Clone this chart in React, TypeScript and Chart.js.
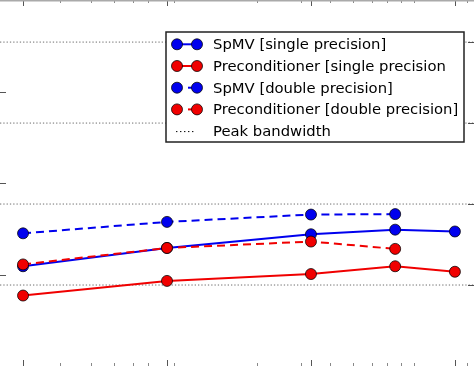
import React, { useEffect, useRef } from "react";
import { Chart, registerables } from "chart.js";
Chart.register(...registerables);

// ---- data ----
const xValues = [1, 2, 4, 6, 8];
const spmvSingle = [10.9, 12.9, 14.4, 14.9, 14.7];
const precondSingle = [7.7, 9.3, 10.05, 10.9, 10.3];
const spmvDouble = [14.5, 15.75, 16.55, 16.6];
const precondDouble = [11.1, 12.9, 13.6, 12.8];
const peakBandwidth = [8.85, 17.7, 26.55, 35.4];
const yTicks = [10, 20, 30];
const xMajorTicks = [1, 2, 4, 8];
const xMinorTicks = [1.195, 1.387, 1.55, 1.698, 1.825, 2.07, 3.08, 3.81, 4.38, 4.9, 5.36, 5.77, 6.17, 6.57, 8.47];
const seriesLabels = [
  "SpMV [single precision]",
  "Preconditioner [single precision",
  "SpMV [double precision]",
  "Preconditioner [double precision]",
  "Peak bandwidth",
];

const X_MIN = 0.895;
const X_MAX = 8.77;
const Y_MIN = 0;
const Y_MAX = 40;

const BLUE = "#0000ee";
const RED = "#f00000";
const DASH = [8, 5];
const FONT = "14.8px 'DejaVu Sans', sans-serif";

const pts = (ys: number[]) => ys.map((y, i) => ({ x: xValues[i], y }));

const legendStyles = [
  { color: BLUE, dashed: false, marker: true },
  { color: RED, dashed: false, marker: true },
  { color: BLUE, dashed: true, marker: true },
  { color: RED, dashed: true, marker: true },
  { color: "#000", dashed: false, marker: false },
];

const framePlugin = {
  id: "frame",
  beforeDatasetsDraw(chart: any) {
    const { ctx, chartArea: a, scales } = chart;
    const xs = scales.x;
    const ys = scales.y;
    ctx.save();
    ctx.lineWidth = 1;
    const tick = (x1: number, y1: number, x2: number, y2: number) => {
      ctx.beginPath();
      ctx.moveTo(x1, y1);
      ctx.lineTo(x2, y2);
      ctx.stroke();
    };
    ctx.strokeStyle = "#555";
    xMajorTicks.forEach((v) => {
      const px = Math.round(xs.getPixelForValue(v)) + 0.5;
      tick(px, a.top, px, a.top + 6);
      tick(px, a.bottom, px, a.bottom - 6);
    });
    yTicks.forEach((v) => {
      const py = Math.round(ys.getPixelForValue(v)) + 0.5;
      tick(a.left, py, a.left + 6, py);
    });
    peakBandwidth.forEach((v) => {
      const py = Math.round(ys.getPixelForValue(v)) + 0.5;
      tick(a.right, py, a.right - 6, py);
    });
    ctx.strokeStyle = "#888";
    xMinorTicks.forEach((v) => {
      const px = Math.round(xs.getPixelForValue(v)) + 0.5;
      tick(px, a.top, px, a.top + 3);
      tick(px, a.bottom, px, a.bottom - 3);
    });
    ctx.strokeStyle = "#aaa";
    ctx.lineWidth = 1.5;
    tick(a.left, a.top + 0.75, a.right, a.top + 0.75);
    ctx.restore();
  },
};

const legendPlugin = {
  id: "mplLegend",
  afterDraw(chart: any) {
    const { ctx } = chart;
    const left = 166;
    const top = 32;
    const w = 298;
    const rowH = 21.7;
    const h = 110;
    ctx.save();
    ctx.fillStyle = "#fff";
    ctx.fillRect(left, top, w, h);
    ctx.strokeStyle = "#222";
    ctx.lineWidth = 1.5;
    ctx.strokeRect(left, top, w, h);
    ctx.font = FONT;
    ctx.textBaseline = "middle";
    seriesLabels.forEach((label, i) => {
      const st = legendStyles[i];
      const cy = top + 12.3 + i * rowH;
      const x1 = left + 11;
      const x2 = left + 31;
      ctx.strokeStyle = st.color;
      ctx.beginPath();
      if (st.marker) {
        ctx.lineWidth = 2;
        ctx.moveTo(st.dashed ? x1 + 11 : x1, cy);
        ctx.lineTo(x2, cy);
      } else {
        ctx.lineWidth = 1;
        ctx.setLineDash([1.4, 2.6]);
        ctx.moveTo(x1 - 1, cy + 0.5);
        ctx.lineTo(x2 - 2, cy + 0.5);
      }
      ctx.stroke();
      ctx.setLineDash([]);
      if (st.marker) {
        [x1, x2].forEach((mx) => {
          ctx.beginPath();
          ctx.arc(mx, cy, 5.5, 0, Math.PI * 2);
          ctx.fillStyle = st.color;
          ctx.fill();
          ctx.lineWidth = 1;
          ctx.strokeStyle = "rgba(0,0,0,0.75)";
          ctx.stroke();
        });
      }
      ctx.fillStyle = "#000";
      ctx.fillText(label, left + 47, cy + 1);
    });
    ctx.restore();
  },
};

export default function App() {
  const ref = useRef<HTMLCanvasElement>(null);
  useEffect(() => {
    if (!ref.current) return;
    const common = {
      pointRadius: 5.5,
      pointHoverRadius: 5.5,
      pointBorderWidth: 1,
      pointBorderColor: "rgba(0,0,0,0.75)",
      borderWidth: 2,
      tension: 0,
      fill: false,
    };
    const datasets: any[] = [
      {
        ...common,
        label: seriesLabels[0],
        data: pts(spmvSingle),
        borderColor: BLUE,
        backgroundColor: BLUE,
        pointBackgroundColor: BLUE,
        order: 4,
      },
      {
        ...common,
        label: seriesLabels[1],
        data: pts(precondSingle),
        borderColor: RED,
        backgroundColor: RED,
        pointBackgroundColor: RED,
        order: 3,
      },
      {
        ...common,
        label: seriesLabels[2],
        data: pts(spmvDouble),
        borderColor: BLUE,
        backgroundColor: BLUE,
        pointBackgroundColor: BLUE,
        borderDash: DASH,
        order: 2,
      },
      {
        ...common,
        label: seriesLabels[3],
        data: pts(precondDouble),
        borderColor: RED,
        backgroundColor: RED,
        pointBackgroundColor: RED,
        borderDash: DASH,
        order: 1,
      },
      ...peakBandwidth.map((p) => ({
        label: seriesLabels[4],
        data: [
          { x: X_MIN, y: p },
          { x: X_MAX, y: p },
        ],
        borderColor: "rgba(60,60,60,0.75)",
        borderWidth: 1,
        borderDash: [1.3, 2],
        pointRadius: 0,
        fill: false,
        order: 10,
      })),
    ];
    const chart = new Chart(ref.current, {
      type: "line",
      data: { datasets },
      options: {
        animation: false,
        responsive: false,
        maintainAspectRatio: false,
        layout: { padding: 0, autoPadding: false },
        plugins: { legend: { display: false }, tooltip: { enabled: false } },
        scales: {
          x: { type: "logarithmic", min: X_MIN, max: X_MAX, display: false, bounds: "data" },
          y: { type: "linear", min: Y_MIN, max: Y_MAX, display: false },
        },
      },
      plugins: [framePlugin, legendPlugin],
    });
    return () => chart.destroy();
  }, []);
  return (
    <div style={{ position: "fixed", left: 0, top: 0, width: 474, height: 366, background: "#fff" }}>
      <canvas ref={ref} width={474} height={366} style={{ display: "block", width: 474, height: 366 }} />
    </div>
  );
}
